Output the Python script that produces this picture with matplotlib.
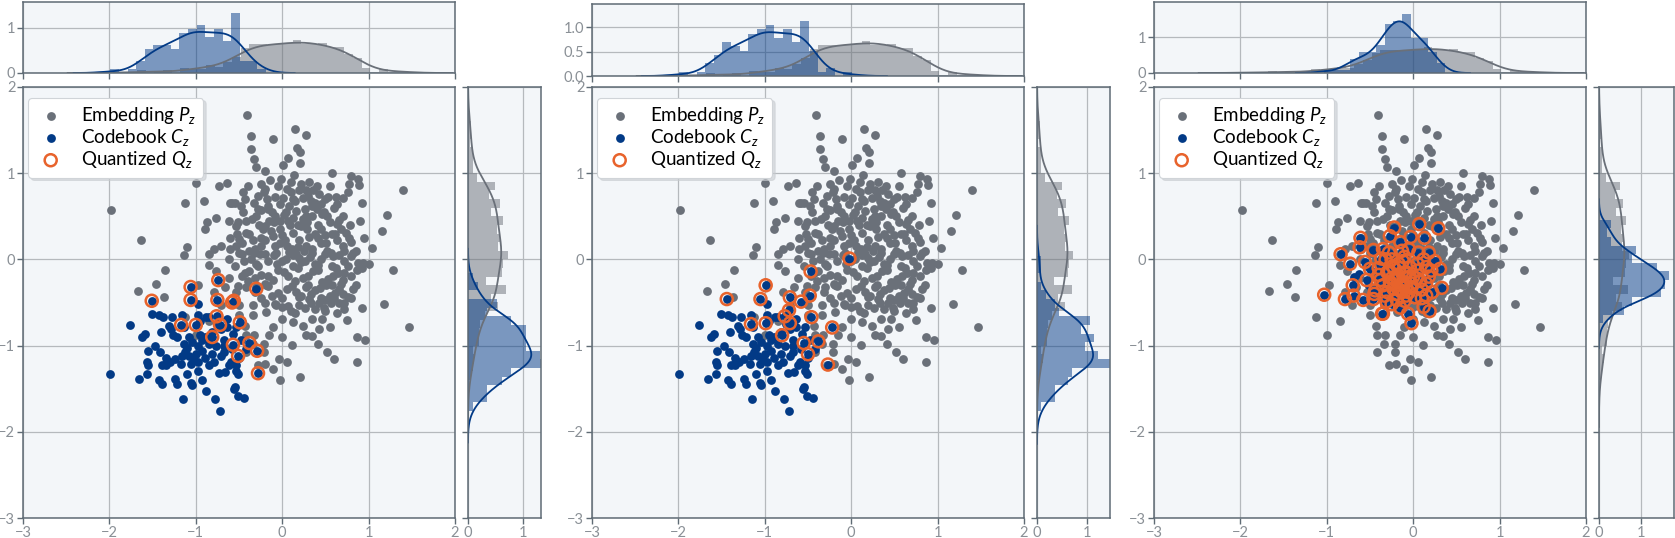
import numpy as np
import matplotlib
matplotlib.use("Agg")
import matplotlib.pyplot as plt

plt.rcParams['font.family'] = ['Lato', 'DejaVu Sans']
plt.rcParams['mathtext.fontset'] = 'custom'
plt.rcParams['mathtext.rm'] = 'Lato'
plt.rcParams['mathtext.it'] = 'Lato:italic'

# embedding P_z (same in all three panels)
emb_x = [-0.41, -1.01, 0.15, 0.27, -0.36, -0.11, -0.36, 0.17, 0.21, -0.33, 0.07, 0.01, 0.21, -0.30, -0.20,
         0.14, 0.58, 0.80, 0.88, 0.89, 0.77, -1.00, -0.73, -0.64, -0.14, -0.01, 1.40, 0.31, 0.27, -1.13,
         -0.90, -1.98, -1.64, 0.92, 1.21, 1.15, 1.04, -1.10, -1.14, -0.87, -0.77, -0.89, -0.62, -0.54, -0.60,
         -0.79, -0.71, -0.85, -0.61, -0.50, -0.45, -0.40, -0.55, -0.28, -0.21, -0.24, -0.08, 0.01, 0.10, 0.19,
         0.24, 0.33, 0.43, 0.53, 0.63, 0.70, 0.76, -0.25, -0.16, -0.30, 0.04, 0.13, -0.03, 0.24, 0.35,
         0.46, 0.55, 0.63, 0.74, -0.42, -0.34, -0.22, -0.11, -0.02, 0.12, 0.20, 0.29, 0.41, 0.51, 0.61,
         0.70, 0.82, 0.93, -0.54, -0.46, -0.36, -0.26, -0.17, -0.07, 0.04, 0.16, 0.26, 0.35, 0.45, 0.59,
         0.72,
         -0.58, -0.43, -0.28, -0.16, 0.15, 0.26, 0.38, 0.49, -0.51, -0.35, -0.20, -0.08, 0.07, 0.22, 0.45,
         0.68, -0.60, -0.47, -0.32, -0.20, -0.08, 0.03, 0.11, 0.34, 0.45, 0.57, 0.80, 0.88, -0.55, -0.43,
         -0.28, -0.16, -0.05, 0.07, 0.18, 0.30, 0.42, 0.53, 0.65, 0.80, 0.92, -0.51, -0.16, -0.05, 0.11,
         0.22, 0.38, 0.49, 0.61, 0.72, -0.08, 0.07, 0.26, 0.38, 0.92,
         -1.36, -1.67, -1.46, -1.37, 1.28, 1.47, 1.18, 0.75, 0.64, 0.72, 0.86, 0.96, 0.86, 0.60, 0.52,
         0.41, 0.34, 0.28, 0.21, -0.03, 0.05, -0.04, -0.11, -0.20, -0.28, 0.11, 0.00, -0.11, 0.00, 0.12,
         0.24, 0.35, 0.46, 0.55, 0.43, -0.15, -0.21, -0.33, -0.43, -0.50, -0.34, -0.19, -0.07, 0.20, 0.31,
         0.43, 0.55, 0.66, 0.76, 0.82, -0.50, -0.34, -0.62, -0.66, -0.79, -0.85, -0.77, -0.97, -0.85, -0.71,
         -0.42, -0.21, -0.34, -0.42, -1.12, -1.00, -0.46, -0.31, -0.42, -0.54, -0.31, -0.19, 0.28, 0.16,
         0.51, 0.66, 0.59, 0.70,
         -0.45, -0.38, -0.25, -0.12, -0.02, 0.08, 0.18, 0.28, 0.38, 0.48, 0.58, 0.70, 0.80, -0.30, -0.10,
         0.00, 0.12, 0.22, 0.32, 0.42, 0.52, 0.62, 0.72, -0.40, -0.20, 0.00, 0.15, 0.30, 0.45, 0.58,
         0.70, 0.85, -0.52, -0.60, -0.05, 0.10, 0.40, 0.55, 0.60, 0.90, 0.95, 1.00, 0.85, -0.15, 0.35,
         0.05, 0.25, -0.25, 0.10, 0.50,
         -0.48, -0.33, -0.18, -0.02, 0.12, 0.30, 0.45, 0.62, -0.42, -0.27, -0.10, 0.02, 0.16, 0.29, 0.40,
         0.52, 0.66, 0.78, -0.50, -0.38, -0.25, -0.13, 0.00, 0.09, 0.18, 0.31, 0.42, 0.50, 0.63, 0.77,
         -0.44, -0.33, -0.20, -0.06, 0.08, 0.20, 0.28, 0.38, 0.49, 0.66, 0.76, -0.38, -0.24, -0.11, 0.02,
         0.13, 0.24, 0.36, 0.46, 0.58, 0.72, 0.86, -0.30, -0.12, 0.05, 0.19, 0.33, 0.44, 0.56, 0.68,
         0.80, -0.20, 0.00, 0.15, 0.33, 0.48, 0.60, 0.05, 0.22, 0.36, -0.20]
emb_y = [1.68, 1.54, 1.51, 1.44, 1.43, 1.40, 1.28, 1.29, 1.25, 1.17, 1.18, 1.09, 1.12, 1.07, 1.03,
         0.98, 1.00, 0.97, 0.93, 0.86, 0.88, 0.89, 0.85, 0.89, 0.92, 0.93, 0.81, 0.90, 0.81, 0.66,
         0.68, 0.57, 0.23, 0.66, 0.51, 0.33, 0.13, 0.14, 0.05, 0.43, 0.48, 0.35, 0.45, 0.39, 0.66,
         0.12, 0.16, 0.06, 0.00, 0.07, 0.78, 0.85, 0.66, 0.74, 0.78, 0.87, 0.72, 0.71, 0.78, 0.81,
         0.71, 0.68, 0.76, 0.72, 0.64, 0.71, 0.78, 0.57, 0.59, 0.50, 0.55, 0.48, 0.45, 0.47, 0.50,
         0.53, 0.43, 0.41, 0.31, 0.31, 0.23, 0.35, 0.27, 0.19, 0.31, 0.23, 0.35, 0.25, 0.19, 0.29,
         0.16, 0.08, -0.04, 0.16, 0.06, 0.00, 0.06, -0.02, 0.08, 0.00, 0.06, -0.02, 0.08, 0.00, 0.04,
         -0.02,
         0.66, 0.70, 0.58, 0.62, 0.68, 0.58, 0.66, 0.70, 0.43, 0.47, 0.39, 0.50, 0.45, 0.39, 0.35,
         0.35, 0.12, 0.19, 0.12, 0.23, 0.16, 0.23, 0.12, 0.12, 0.19, 0.08, 0.04, -0.04, -0.08, -0.16,
         -0.08, -0.19, -0.12, -0.19, -0.10, -0.19, -0.12, -0.23, -0.16, -0.19, -0.10, -0.31, -0.31, -0.39, -0.31,
         -0.43, -0.35, -0.47, -0.39, -0.50, -0.52, -0.54, -0.56, -0.58, -0.56,
         -0.12, -0.37, -0.29, -0.44, -0.12, -0.78, -0.52, -0.70, -0.62, -0.57, -0.90, -0.93, -1.19, -1.15, -1.08,
         -0.98, -0.89, -0.88, -1.36, -1.40, -1.19, -1.16, -1.27, -1.21, -1.22, -0.99, -0.90, -0.79, -0.69, -0.73,
         -0.77, -0.69, -0.69, -0.79, -0.81, -0.88, -0.98, -0.88, -0.77, -0.65, -0.65, -0.61, -0.53, -0.53, -0.46,
         -0.50, -0.42, -0.50, -0.44, -0.34, -0.53, -0.53, -0.21, -0.32, -0.38, -0.07, -0.13, -0.30, -0.71, -0.53,
         -1.08, -1.08, -0.98, -0.88, -0.67, -0.88, -0.19, -0.22, -0.32, -0.38, -0.38, -0.30, -0.32, -0.38,
         -0.30, -0.34, -0.19, -0.24,
         0.55, 0.10, 0.25, 0.55, 0.35, 0.62, 0.40, 0.50, 0.30, 0.55, 0.30, 0.50, 0.20, -0.05, 0.05,
         -0.02, 0.05, -0.03, 0.03, -0.06, 0.10, -0.10, 0.10, -0.25, -0.28, -0.45, -0.25, -0.30, -0.45, -0.30,
         -0.40, -0.30, 0.30, 0.25, 0.85, 0.90, 0.85, 0.85, 0.60, 0.45, 0.25, -0.05, 0.10, 0.45, 0.62,
         0.15, 0.10, -0.45, -0.60, -0.60,
         0.62, 0.66, 0.70, 0.64, 0.70, 0.74, 0.64, 0.72, 0.44, 0.40, 0.43, 0.52, 0.56, 0.43, 0.58,
         0.50, 0.46, 0.40, 0.24, 0.30, 0.16, 0.33, 0.28, 0.40, 0.14, 0.26, 0.40, 0.28, 0.22, 0.25,
         -0.02, 0.08, 0.06, -0.05, 0.09, 0.02, 0.16, -0.05, 0.06, 0.05, -0.08, -0.13, -0.18, -0.24, -0.15,
         -0.08, -0.22, -0.14, -0.26, -0.08, -0.16, -0.12, -0.32, -0.42, -0.34, -0.44, -0.40, -0.33, -0.50, -0.28,
         -0.45, -0.50, -0.55, -0.62, -0.50, -0.56, -0.45, 0.82, 0.88, 0.80, 0.82]

# codebook entries shared by panels 1 and 2
code_x = [-1.76, -1.99, -1.66, -1.56, -1.59, -1.62, -1.51, -1.43, -1.38, -1.28, -1.16, -0.98, -0.97, -0.88, -0.64,
          -1.47, -1.55, -1.57, -1.55, -1.41, -1.35, -1.33, -1.30, -1.39, -1.43, -1.39, -1.24, -1.22, -1.40, -1.31,
          -1.29, -1.22, -1.14, -1.10, -1.16, -1.08, -1.06, -1.10, -1.05, -1.04, -1.15, -0.98, -0.93, -0.88, -0.78,
          -0.72, -0.56, -0.51, -0.44, -0.55, -0.66, -0.51, -0.53, -0.59, -0.50, -0.73, -0.85, -0.79, -0.97, -1.02,
          -0.89, -0.81, -0.71, -0.67, -0.67, -0.77, -0.85, -0.93, -0.98, -1.04, -0.95, -0.89, -0.81, -0.71, -0.67,
          -0.57, -0.54, -0.48, -0.42, -0.58, -0.93, -1.00, -1.08, -1.12, -1.35, -1.24, -1.17, -0.62, -0.54, -0.95,
          -0.85, -0.75, -0.64, -1.14, -1.26]
code_y = [-0.76, -1.33, -1.39, -1.33, -0.86, -0.90, -0.63, -0.65, -0.67, -0.67, -0.64, -0.65, -0.52, -0.67, -0.69,
          -1.00, -1.06, -1.19, -1.23, -1.08, -1.14, -1.19, -1.19, -1.23, -1.40, -1.45, -1.39, -1.44, -0.84, -0.77,
          -0.81, -0.90, -0.98, -1.03, -1.12, -1.12, -1.21, -1.33, -1.43, -1.46, -1.62, -1.29, -1.40, -1.53, -1.62,
          -1.76, -1.50, -1.58, -1.61, -1.48, -1.31, -1.33, -1.29, -1.19, -1.14, -1.32, -1.23, -1.19, -1.19, -1.17,
          -1.14, -1.10, -1.12, -1.08, -1.00, -1.00, -0.98, -0.94, -1.00, -0.96, -0.88, -0.90, -0.84, -0.81, -0.94,
          -0.86, -0.79, -0.94, -1.04, -1.04, -1.06, -1.10, -0.90, -1.08, -1.23, -1.16, -1.21, -1.23, -1.23, -0.71,
          -0.67, -0.75, -0.79, -0.79, -0.88]

# quantized Q_z per panel (codebook entries picked by the embedding)
quant1_x = [-1.51, -1.06, -1.06, -0.74, -0.75, -0.56, -0.58, -0.30, -0.76, -0.72, -1.17, -1.00, -0.49, -0.81,
            -0.57, -0.38, -0.29, -0.51, -0.28]
quant1_y = [-0.48, -0.32, -0.47, -0.24, -0.47, -0.48, -0.50, -0.34, -0.66, -0.76, -0.76, -0.76, -0.73, -0.90,
            -0.99, -0.97, -1.06, -1.12, -1.32]
quant2_x = [-0.02, -0.47, -0.99, -1.44, -1.05, -0.71, -0.58, -0.48, -0.72, -0.77, -0.71, -1.16, -0.99, -0.46,
            -0.22, -0.80, -0.55, -0.38, -0.50, -0.27]
quant2_y = [0.01, -0.14, -0.30, -0.46, -0.46, -0.44, -0.49, -0.42, -0.59, -0.66, -0.74, -0.75, -0.74, -0.67,
            -0.79, -0.88, -0.97, -0.95, -1.10, -1.22]
quant3_x = [0.07, -0.22, 0.29, -0.61, -0.27, -0.03, 0.13, -0.62, -0.46, -0.35, -0.13, 0.06, 0.18, -0.84, -0.73,
            -0.56, -0.50, -0.37, -0.25, -0.17, -0.10, -0.04, 0.05, 0.15, 0.21, 0.31, -0.54, -0.38, -0.27, -0.19,
            -0.12, -0.02, 0.04, 0.15, 0.33, -0.70, -0.79, -0.69, -0.58, -0.46, -0.33, -0.31, -0.19, -0.08, 0.02,
            0.15, -0.35, -0.15, -0.06, -0.02, 0.12, 0.19, -0.23, -0.13, -0.44, -1.03, -0.36,
            -0.30, -0.22, -0.08, 0.00, 0.08, -0.15, -0.25, -0.35, -0.05, 0.10, -0.20, -0.30, 0.05, -0.12, -0.28,
            -0.40, 0.18, 0.25, -0.10, -0.25, 0.10, -0.40, -0.18, -0.02, 0.12, -0.32, -0.05, -0.45, 0.22, -0.15,
            -0.20, -0.10, -0.26, -0.08, -0.04, -0.28, -0.15, -0.24, -0.11, -0.21, -0.16, -0.12]
quant3_y = [0.41, 0.37, 0.36, 0.25, 0.27, 0.26, 0.25, 0.14, 0.11, 0.12, 0.10, 0.08, 0.08, 0.06, -0.05,
            -0.03, -0.11, 0.01, 0.00, -0.05, 0.03, -0.09, -0.13, -0.09, -0.13, -0.11, -0.24, -0.24, -0.26, -0.20,
            -0.28, -0.32, -0.22, -0.28, -0.33, -0.30, -0.46, -0.42, -0.47, -0.46, -0.42, -0.49, -0.47, -0.42, -0.44,
            -0.42, -0.63, -0.56, -0.63, -0.74, -0.55, -0.60, -0.34, -0.38, -0.36, -0.41, -0.63,
            -0.15, -0.10, -0.15, -0.20, -0.25, -0.30, -0.22, -0.30, -0.38, -0.35, -0.40, -0.38, -0.05, -0.02, 0.08,
            -0.10, -0.20, -0.02, -0.48, -0.52, -0.45, -0.18, -0.18, -0.28, 0.00, 0.00, 0.12, -0.40, -0.38, 0.20,
            -0.20, -0.16, -0.28, -0.32, -0.20, -0.14, -0.36, -0.08, -0.30, -0.24, -0.10, -0.26]
# panel 3 codebook entries that no embedding picked
code3_x = [-0.63, -0.69, -0.51]
code3_y = [-0.17, -0.20, -0.30]

GRAY = '#6a7079'
BLUE = '#023a86'
ORANGE = '#e8632c'
BG = '#f3f6f9'
SPINE = '#5f6b75'
TICKLBL = '#8a9096'

W, H = 1675, 538


def px_rect(left, top, width, height):
    return [left / W, 1 - (top + height) / H, width / W, height / H]


def kde(vals):
    vals = np.asarray(vals)
    bw = np.std(vals, ddof=1) * len(vals) ** (-0.2)
    grid = np.linspace(vals.min() - 3 * bw, vals.max() + 3 * bw, 300)
    d = (grid[:, None] - vals[None, :]) / bw
    dens = np.exp(-0.5 * d * d).sum(axis=1) / (len(vals) * bw * np.sqrt(2 * np.pi))
    return grid, dens


def style(ax):
    ax.set_facecolor(BG)
    ax.grid(True, color='#b5b9bd', lw=0.9)
    ax.set_axisbelow(True)
    for s in ax.spines.values():
        s.set_color(SPINE)
        s.set_linewidth(1.1)
    ax.tick_params(direction='out', length=4, width=1, color=SPINE,
                   labelcolor=TICKLBL, labelsize=10.5, pad=1.5)


def draw_panel(fig, x0, top_box, right_w, cx, cy, qx, qy, top_lim, top_ticks, right_lim):
    main = fig.add_axes(px_rect(x0, 87, 432, 431))
    top = fig.add_axes(px_rect(x0, top_box[0], 432, top_box[1] - top_box[0]), sharex=main)
    side = fig.add_axes(px_rect(x0 + 445, 87, right_w, 431), sharey=main)
    for ax in (main, top, side):
        style(ax)

    main.scatter(emb_x, emb_y, s=40, color=GRAY, lw=0, label='Embedding $P_z$', zorder=2)
    main.scatter(cx, cy, s=40, color=BLUE, lw=0, label='Codebook $C_z$', zorder=3)
    main.scatter(qx, qy, s=75, facecolor='none', edgecolor=ORANGE, lw=1.8,
                 label='Quantized $Q_z$', zorder=4)
    main.set_xlim(-3, 2)
    main.set_ylim(-3, 2)
    main.set_xticks([-3, -2, -1, 0, 1, 2])
    main.set_yticks([-3, -2, -1, 0, 1, 2])
    leg = main.legend(loc='upper left', bbox_to_anchor=(0.012, 0.975), borderaxespad=0,
                      fontsize=13.5, frameon=True, fancybox=True, framealpha=1,
                      edgecolor='#d0d4d8', facecolor='white', handlelength=1.6,
                      handletextpad=0.8, borderpad=0.4, labelspacing=0.05,
                      shadow={'color': '#c8ccd0', 'alpha': 0.6})
    leg.get_frame().set_linewidth(0.8)

    for vals, col in ((emb_x, GRAY), (cx, BLUE)):
        v = np.asarray(vals)
        top.hist(v, bins=np.arange(v.min(), v.max() + 0.1, 0.1), density=True,
                 color=col, alpha=0.5, lw=0)
        g, d = kde(v)
        top.plot(g, d, color=col, lw=1.3)
    top.set_ylim(*top_lim)
    top.set_yticks(top_ticks)
    top.tick_params(axis='x', labelbottom=False)

    for vals, col in ((emb_y, GRAY), (cy, BLUE)):
        v = np.asarray(vals)
        side.hist(v, bins=np.arange(v.min(), v.max() + 0.1, 0.1), density=True,
                  color=col, alpha=0.5, lw=0, orientation='horizontal')
        g, d = kde(v)
        side.plot(d, g, color=col, lw=1.3)
    side.set_xlim(*right_lim)
    side.set_xticks([0, 1])
    side.tick_params(axis='y', labelleft=False)


fig = plt.figure(figsize=(W / 100, H / 100), dpi=100)

draw_panel(fig, 23, (2, 73), 73, code_x + quant1_x, code_y + quant1_y, quant1_x, quant1_y,
           (0, 1.57), [0, 1], (0, 1.33))
draw_panel(fig, 592, (4, 76), 73, code_x + quant2_x, code_y + quant2_y, quant2_x, quant2_y,
           (0, 1.48), [0.0, 0.5, 1.0], (0, 1.45))
draw_panel(fig, 1154, (2, 73), 75, code3_x + quant3_x, code3_y + quant3_y, quant3_x, quant3_y,
           (0, 1.99), [0, 1], (0, 1.79))

fig.savefig('out.png', dpi=100, facecolor='white')
